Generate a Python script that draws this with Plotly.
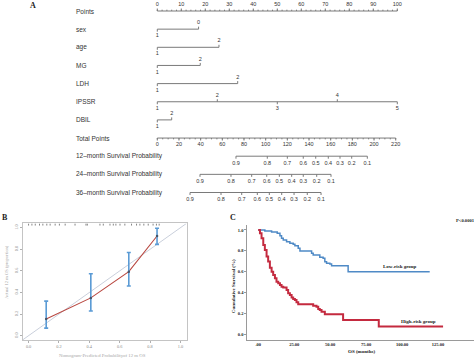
import plotly.graph_objects as go

W, H = 474, 359

# ---------------- Panel A: nomogram data ----------------
row_labels = ["Points", "sex", "age", "MG", "LDH", "IPSSR", "DBIL", "Total Points",
              "12–month Survival Probability", "24–month Survival Probability",
              "36–month Survival Probability"]
points_ticks = list(range(0, 101, 10))
points_minor = list(range(0, 101, 2))
sex_levels = ["1", "0"]
sex_points = [0, 17.2]
age_levels = ["1", "2"]
age_points = [0, 25.7]
mg_levels = ["1", "2"]
mg_points = [0, 17.9]
ldh_levels = ["1", "2"]
ldh_points = [0, 33.5]
ipssr_levels = ["1", "2", "3", "4", "5"]
ipssr_points = [0, 25, 50, 75, 100]
dbil_levels = ["1", "2"]
dbil_points = [0, 6.0]
total_ticks = list(range(0, 221, 20))
total_minor = list(range(0, 221, 5))
surv_labels = ["0.9", "0.8", "0.7", "0.6", "0.5", "0.4", "0.3", "0.2", "0.1"]
surv12_total = [72.6, 101.5, 120.0, 134.7, 146.2, 157.8, 168.6, 179.4, 193.8]
surv24_total = [39.4, 68.0, 87.1, 101.0, 112.6, 124.0, 134.7, 147.1, 160.3]
surv36_total = [30.2, 58.8, 77.9, 92.3, 103.4, 114.8, 126.2, 138.4, 151.1]

# ---------------- Panel B: calibration data ----------------
cal_pred = [0.116, 0.41, 0.66, 0.846]
cal_obs = [0.155, 0.35, 0.593, 0.923]
cal_lo = [0.07, 0.229, 0.46, 0.846]
cal_hi = [0.32, 0.574, 0.77, 0.995]
rug_pred = [0.0, 0.022, 0.044, 0.072, 0.094, 0.12, 0.142, 0.175, 0.203, 0.241, 0.306,
            0.378, 0.387, 0.47, 0.492, 0.536, 0.558, 0.575, 0.602, 0.634, 0.678, 0.711,
            0.733, 0.759, 0.788, 0.82, 0.842, 0.86]
cal_ticks = [0.0, 0.2, 0.4, 0.6, 0.8, 1.0]

# ---------------- Panel C: Kaplan-Meier data ----------------
low_time = [0, 4.6, 9.3, 13.2, 15.1, 16.2, 17.4, 19.7, 22.0, 24.3, 25.5, 27.8, 29.0,
            37.1, 38.2, 42.8, 45.1, 46.3, 47.5, 49.8, 51.0, 62.5, 119.2]
low_surv = [1.0, 0.99, 0.98, 0.968, 0.945, 0.92, 0.904, 0.888, 0.872, 0.862, 0.849, 0.824,
            0.798, 0.776, 0.76, 0.737, 0.728, 0.695, 0.68, 0.673, 0.657, 0.599, 0.599]
high_time = [0, 1.2, 2.3, 3.5, 4.6, 5.8, 6.9, 8.1, 9.3, 10.4, 11.6, 12.7, 13.9, 15.1, 16.2,
             17.4, 19.7, 20.8, 22.0, 23.2, 24.3, 25.5, 26.6, 27.8, 38.2, 40.5, 41.7, 42.8,
             44.0, 46.3, 59.0, 83.8, 128.5]
high_surv = [1.0, 0.968, 0.92, 0.856, 0.808, 0.744, 0.696, 0.638, 0.599, 0.567, 0.535,
             0.503, 0.487, 0.471, 0.455, 0.446, 0.423, 0.391, 0.375, 0.35, 0.337, 0.327,
             0.305, 0.285, 0.272, 0.263, 0.24, 0.231, 0.215, 0.189, 0.135, 0.071, 0.071]
km_ticks = [0, 25, 50, 75, 100, 125]
km_ticktext = [".00", "25.00", "50.00", "75.00", "100.00", "125.00"]
surv_ticks = [0.0, 0.2, 0.4, 0.6, 0.8, 1.0]

# ---------------- layout helpers ----------------
PITCH = 18.15
ROW0 = 11.0
def dpx(d):
    return d / PITCH

LINE_C = "#7a7a7a"
TXT_C = "#333333"
SANS = "Liberation Sans"
SERIF = "Liberation Serif"

fig = go.Figure()

seg_x, seg_y = [], []          # points-axis segments
seg2_x, seg2_y = [], []        # total-points-axis segments
tx, ty, tt = [], [], []        # text on points axis
tx2, ty2, tt2 = [], [], []     # text on total axis

def add_seg(xs, ys, store_x, store_y):
    store_x.extend(xs + [None])
    store_y.extend(ys + [None])

# Points row
r = 0
add_seg([0, 100], [r, r], seg_x, seg_y)
for v in points_minor:
    add_seg([v, v], [r, r - dpx(1.3)], seg_x, seg_y)
for v in points_ticks:
    add_seg([v, v], [r, r - dpx(2.5)], seg_x, seg_y)
    tx.append(v); ty.append(r - dpx(6.5)); tt.append(str(v))

# variable rows
var_rows = [(sex_levels, sex_points), (age_levels, age_points), (mg_levels, mg_points),
            (ldh_levels, ldh_points), (ipssr_levels, ipssr_points), (dbil_levels, dbil_points)]
for k, (levs, pts) in enumerate(var_rows):
    r = k + 1
    add_seg([min(pts), max(pts)], [r, r], seg_x, seg_y)
    for i, (lv, p) in enumerate(zip(levs, pts)):
        above = (i % 2 == 1)
        if above:
            add_seg([p, p], [r, r - dpx(2.5)], seg_x, seg_y)
            tx.append(p); ty.append(r - dpx(6.3)); tt.append(lv)
        else:
            add_seg([p, p], [r, r + dpx(2.5)], seg_x, seg_y)
            tx.append(p); ty.append(r + dpx(6.7)); tt.append(lv)

# Total points row
r = 7
add_seg([0, 220], [r, r], seg2_x, seg2_y)
for v in total_minor:
    add_seg([v, v], [r, r + dpx(1.3)], seg2_x, seg2_y)
for v in total_ticks:
    add_seg([v, v], [r, r + dpx(2.5)], seg2_x, seg2_y)
    tx2.append(v); ty2.append(r + dpx(6.3)); tt2.append(str(v))

# Survival rows
for k, pos in enumerate([surv12_total, surv24_total, surv36_total]):
    r = 8 + k
    add_seg([min(pos), max(pos)], [r, r], seg2_x, seg2_y)
    for lab, p in zip(surv_labels, pos):
        add_seg([p, p], [r, r + dpx(2.5)], seg2_x, seg2_y)
        tx2.append(p); ty2.append(r + dpx(7)); tt2.append(lab)

fig.add_trace(go.Scatter(x=seg_x, y=seg_y, mode="lines", line=dict(color=LINE_C, width=1),
                         xaxis="x", yaxis="y", showlegend=False, hoverinfo="skip"))
fig.add_trace(go.Scatter(x=seg2_x, y=seg2_y, mode="lines", line=dict(color=LINE_C, width=1),
                         xaxis="x2", yaxis="y", showlegend=False, hoverinfo="skip"))
fig.add_trace(go.Scatter(x=tx, y=ty, text=tt, mode="text", cliponaxis=False,
                         textfont=dict(family=SANS, size=5.5, color=TXT_C),
                         xaxis="x", yaxis="y", showlegend=False, hoverinfo="skip"))
fig.add_trace(go.Scatter(x=tx2, y=ty2, text=tt2, mode="text", cliponaxis=False,
                         textfont=dict(family=SANS, size=5.5, color=TXT_C),
                         xaxis="x2", yaxis="y", showlegend=False, hoverinfo="skip"))

annotations = []
for i, lab in enumerate(row_labels):
    annotations.append(dict(text=lab, x=74 / W, xref="paper", y=i, yref="y",
                            xanchor="left", yanchor="middle", showarrow=False,
                            font=dict(family=SANS, size=6.5, color=TXT_C)))

# ---------------- Panel B ----------------
fig.add_trace(go.Scatter(x=[-0.04, 1.04], y=[-0.04, 1.04], mode="lines",
                         line=dict(color="#c9cfdb", width=1), xaxis="x3", yaxis="y3",
                         showlegend=False, hoverinfo="skip"))
rx, ry = [], []
for v in rug_pred:
    rx += [v, v, None]
    ry += [1.04, 1.02, None]
fig.add_trace(go.Scatter(x=rx, y=ry, mode="lines", line=dict(color="#666666", width=0.8),
                         xaxis="x3", yaxis="y3", showlegend=False, hoverinfo="skip"))
fig.add_trace(go.Scatter(x=cal_pred, y=cal_obs, mode="lines",
                         line=dict(color="#b8463f", width=1.1), xaxis="x3", yaxis="y3",
                         showlegend=False, hoverinfo="skip"))
fig.add_trace(go.Scatter(
    x=cal_pred, y=cal_obs, mode="markers",
    marker=dict(color="#44556a", size=2.5),
    error_y=dict(type="data", symmetric=False,
                 array=[h - o for h, o in zip(cal_hi, cal_obs)],
                 arrayminus=[o - l for o, l in zip(cal_obs, cal_lo)],
                 color="#5b9bd5", thickness=1.6, width=2),
    xaxis="x3", yaxis="y3", showlegend=False, hoverinfo="skip"))

annotations.append(dict(text="Actual 12 m OS (proportion)", x=6 / W, xref="paper",
                        y=1 - 272 / H, yref="paper", textangle=-90, showarrow=False,
                        xanchor="center", yanchor="middle",
                        font=dict(family=SERIF, size=4.6, color="#a8a8a8")))
annotations.append(dict(text="Nomogram-Predicted Probabilityof 12 m OS", x=102 / W,
                        xref="paper", y=1 - 355.5 / H, yref="paper", showarrow=False,
                        xanchor="center", yanchor="middle",
                        font=dict(family=SERIF, size=4.8, color="#a8a8a8")))

# ---------------- Panel C ----------------
fig.add_trace(go.Scatter(x=low_time, y=low_surv, mode="lines", line_shape="hv",
                         line=dict(color="#4f8ac6", width=1.5), xaxis="x4", yaxis="y4",
                         showlegend=False, hoverinfo="skip"))
fig.add_trace(go.Scatter(x=high_time, y=high_surv, mode="lines", line_shape="hv",
                         line=dict(color="#c42a3f", width=2), xaxis="x4", yaxis="y4",
                         showlegend=False, hoverinfo="skip"))
bold_serif = dict(family=SERIF, size=5, color="#222222", weight="bold")
annotations.append(dict(text="Low-risk group", x=98.4, xref="x4", y=0.647, yref="y4",
                        showarrow=False, xanchor="center", yanchor="middle", font=bold_serif))
annotations.append(dict(text="High-risk group", x=111.6, xref="x4", y=0.118, yref="y4",
                        showarrow=False, xanchor="center", yanchor="middle", font=bold_serif))
annotations.append(dict(text="P<0.0001", x=465 / W, xref="paper", y=1 - 220 / H,
                        yref="paper", showarrow=False, xanchor="center", yanchor="middle",
                        font=dict(family=SERIF, size=4.6, color="#222222", weight="bold")))
annotations.append(dict(text="OS (months)", x=361.7 / W, xref="paper", y=1 - 351 / H,
                        yref="paper", showarrow=False, xanchor="center", yanchor="middle",
                        font=bold_serif))
annotations.append(dict(text="Cumulative Survival (%)", x=233.5 / W, xref="paper",
                        y=1 - 286.7 / H, yref="paper", textangle=-90, showarrow=False,
                        xanchor="center", yanchor="middle", font=bold_serif))

# panel letters
for lab, px_, py_ in [("A", 33, 5), ("B", 5, 217), ("C", 233, 217)]:
    annotations.append(dict(text=lab, x=px_ / W, xref="paper", y=1 - py_ / H, yref="paper",
                            showarrow=False, xanchor="center", yanchor="middle",
                            font=dict(family=SERIF, size=8, color="#222222", weight="bold")))

# ---------------- axes ----------------
p0, p100 = 157.3, 397.3
sp = (p100 - p0) / 100
xa_lo, xa_hi = -5, 105
t0, t220 = 157.3, 395.7
st = (t220 - t0) / 220
xb_lo, xb_hi = -10, 230
ytop_px, ybot_px = 0, 205

hidden = dict(visible=False, showgrid=False, zeroline=False, fixedrange=True)
layout = dict(
    width=W, height=H, margin=dict(l=0, r=0, t=0, b=0),
    paper_bgcolor="white", plot_bgcolor="rgba(0,0,0,0)",
    xaxis=dict(domain=[(p0 + xa_lo * sp) / W, (p0 + xa_hi * sp) / W], range=[xa_lo, xa_hi],
               anchor="y", **hidden),
    xaxis2=dict(domain=[(t0 + xb_lo * st) / W, (t0 + xb_hi * st) / W], range=[xb_lo, xb_hi],
                anchor="y", **hidden),
    yaxis=dict(domain=[1 - ybot_px / H, 1 - ytop_px / H],
               range=[(ybot_px - ROW0) / PITCH, (ytop_px - ROW0) / PITCH],
               anchor="x", **hidden),
    xaxis3=dict(domain=[22.5 / W, 186.5 / W], range=[-0.04, 1.04], anchor="y3",
                showline=True, mirror=True, linecolor="#c4c4c4", linewidth=0.8,
                showgrid=False, zeroline=False, ticks="outside", ticklen=2,
                tickcolor="#b0b0b0", tickvals=cal_ticks,
                ticktext=[f"{v:.1f}" for v in cal_ticks],
                tickfont=dict(family=SERIF, size=4.3, color="#8a8a8a")),
    yaxis3=dict(domain=[1 - 340 / H, 1 - 223.4 / H], range=[-0.04, 1.04], anchor="x3",
                showline=True, mirror=True, linecolor="#c4c4c4", linewidth=0.8,
                showgrid=False, zeroline=False, ticks="outside", ticklen=2,
                tickcolor="#b0b0b0", tickvals=cal_ticks, tickangle=-90,
                ticktext=[f"{v:.1f}" for v in cal_ticks],
                tickfont=dict(family=SERIF, size=4.3, color="#8a8a8a")),
    xaxis4=dict(domain=[247.3 / W, 1.0], range=[-7.6, 150], anchor="y4",
                showline=True, linecolor="#9a9a9a", linewidth=1, showgrid=False,
                zeroline=False, ticks="", tickvals=km_ticks, ticktext=km_ticktext,
                tickfont=dict(family=SERIF, size=4.5, color="#222222", weight="bold")),
    yaxis4=dict(domain=[1 - 340 / H, 1 - 225 / H], range=[-0.0577, 1.048], anchor="x4",
                showline=True, linecolor="#9a9a9a", linewidth=1, showgrid=False,
                zeroline=False, ticks="outside", ticklen=2, tickcolor="#9a9a9a",
                tickvals=surv_ticks, ticktext=[f"{v:.1f}" for v in surv_ticks],
                tickfont=dict(family=SERIF, size=4.5, color="#222222", weight="bold")),
    annotations=annotations,
)
fig.update_layout(**layout)

fig.write_html("out.html", config={"displayModeBar": False},
               post_script="document.body.style.margin='0';document.body.style.overflow='hidden';")
